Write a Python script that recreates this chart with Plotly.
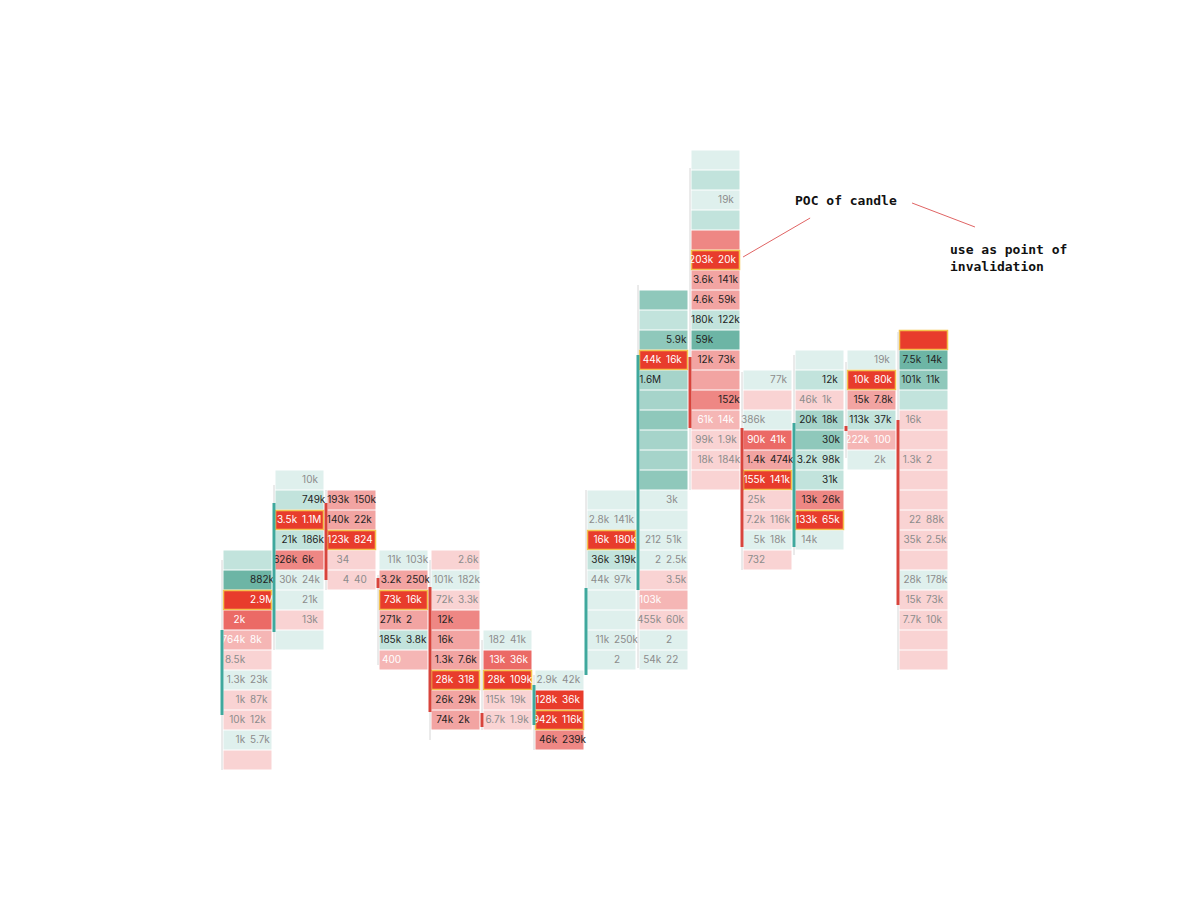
import plotly.graph_objects as go

# ---------------- data ----------------
# top price level of each candle's footprint (levels step by 1)
tops = [10, 14, 13, 10, 10, 6, 4, 13, 23, 30, 19, 20, 20, 21]
poc_levels = [8, 12, 11, 8, 4, 4, 2, 11, 20, 25, 14, 12, 19, 21]

shades = [
    ["T1", "T4", "R", "P4", "P1", "P0", "T0", "P0", "P0", "T0", "P0"],
    ["T0", "T1", "R", "T1", "P3", "T0", "T0", "P0", "T0"],
    ["P2", "P2", "R", "P0", "P0"],
    ["T0", "P2", "R", "P2", "T1", "P1"],
    ["P0", "T0", "P0", "P3", "P2", "P2", "R", "P2", "P2"],
    ["T0", "P4", "R", "P0", "P0"],
    ["T0", "R", "R", "P3"],
    ["T0", "T0", "R", "T1", "T0", "T0", "T0", "T0", "T0"],
    ["T3", "T1", "T3", "R", "T2", "T2", "T3", "T2", "T2", "T3", "T0", "T0", "T0", "T0", "P0", "P1", "P0", "T0", "T0"],
    ["T0", "T1", "T0", "T1", "P3", "R", "P2", "P2", "T1", "T4", "P2", "P2", "P3", "P1", "P0", "P0", "P0"],
    ["T0", "P0", "T0", "P4", "P2", "R", "P0", "P0", "T0", "P0"],
    ["T0", "T1", "P0", "T2", "T3", "T1", "T1", "P3", "R", "T0"],
    ["T0", "R", "P2", "T1", "P1", "T0"],
    ["R", "T4", "T3", "T1", "P0", "P0", "P0", "P0", "P0", "P0", "P0", "P0", "T0", "P0", "P0", "P0", "P0"],
]

bids = [
    ["", "", "", "2k", "764k", "8.5k", "1.3k", "1k", "10k", "1k", ""],
    ["", "", "3.5k", "21k", "626k", "30k", "", "", ""],
    ["193k", "140k", "123k", "34", "4"],
    ["11k", "3.2k", "73k", "271k", "185k", "400"],
    ["", "101k", "72k", "12k", "16k", "1.3k", "28k", "26k", "74k"],
    ["182", "13k", "28k", "115k", "6.7k"],
    ["2.9k", "128k", "942k", "46k"],
    ["", "2.8k", "16k", "36k", "44k", "", "", "11k", ""],
    ["", "", "", "44k", "1.6M", "", "", "", "", "", "", "", "212", "2", "", "103k", "455k", "", "54k"],
    ["", "", "", "", "", "203k", "3.6k", "4.6k", "180k", "59k", "12k", "", "", "61k", "99k", "18k", ""],
    ["", "", "386k", "90k", "1.4k", "155k", "25k", "7.2k", "5k", "732"],
    ["", "", "46k", "20k", "", "3.2k", "", "13k", "133k", "14k"],
    ["", "10k", "15k", "113k", "222k", ""],
    ["", "7.5k", "101k", "", "16k", "", "1.3k", "", "", "22", "35k", "", "28k", "15k", "7.7k", "", ""],
]

asks = [
    ["", "882k", "2.9M", "", "8k", "", "23k", "87k", "12k", "5.7k", ""],
    ["10k", "749k", "1.1M", "186k", "6k", "24k", "21k", "13k", ""],
    ["150k", "22k", "824", "", "40"],
    ["103k", "250k", "16k", "2", "3.8k", ""],
    ["2.6k", "182k", "3.3k", "", "", "7.6k", "318", "29k", "2k"],
    ["41k", "36k", "109k", "19k", "1.9k"],
    ["42k", "36k", "116k", "239k"],
    ["", "141k", "180k", "319k", "97k", "", "", "250k", "2"],
    ["", "", "5.9k", "16k", "", "", "", "", "", "", "3k", "", "51k", "2.5k", "3.5k", "", "60k", "2", "22"],
    ["", "", "19k", "", "", "20k", "141k", "59k", "122k", "", "73k", "", "152k", "14k", "1.9k", "184k", ""],
    ["77k", "", "", "41k", "474k", "141k", "", "116k", "18k", ""],
    ["", "12k", "1k", "18k", "30k", "98k", "31k", "26k", "65k", ""],
    ["19k", "80k", "7.8k", "37k", "100", "2k"],
    ["", "14k", "11k", "", "", "", "2", "", "", "88k", "2.5k", "", "178k", "73k", "10k", "", ""],
]

# candles in price-level units: body top, body bottom, wick top, wick bottom, bullish?
body_top = [6.5, 12.85, 12.85, 9.1, 8.65, 2.35, 3.75, 8.6, 20.25, 20.15, 16.6, 16.85, 16.7, 17.0]
body_bot = [2.25, 6.4, 9.0, 8.6, 2.4, 1.65, 1.75, 4.25, 8.5, 16.6, 10.65, 10.65, 16.45, 7.75]
wick_top = [10.0, 13.75, 13.5, 9.25, 10.0, 6.0, 4.25, 13.5, 23.75, 29.6, 19.4, 20.25, 19.9, 21.4]
wick_bot = [-0.5, 5.5, 8.5, 4.75, 1.0, 1.5, 0.5, 4.4, 4.6, 13.5, 9.5, 10.25, 15.1, 4.5]
bullish = [True, True, False, False, False, False, True, True, True, False, False, True, False, False]

# annotations (data units)
note_lines = [
    [(9.53, 25.15), (10.82, 27.1)],
    [(12.78, 27.85), (13.99, 26.65)],
]
note_texts = [
    ("POC of candle", 10.49, 28.0),
    ("use as point of<br>invalidation", 13.47, 25.1),
]

# ---------------- styling ----------------
palette = {
    "T0": "#dff0ed", "T1": "#c2e3dc", "T2": "#a6d4ca", "T3": "#8fc8bb", "T4": "#6db5a5",
    "P0": "#f9d3d3", "P1": "#f5b6b5", "P2": "#f2a4a2", "P3": "#ee8784", "P4": "#eb6a66",
    "R": "#e83c2c",
}
text_col = {
    "T0": "#8c8c8c", "T1": "#1f1f1f", "T2": "#1f1f1f", "T3": "#1f1f1f", "T4": "#1f1f1f",
    "P0": "#8c8c8c", "P1": "#ffffff", "P2": "#1f1f1f", "P3": "#1f1f1f", "P4": "#ffffff",
    "R": "#ffffff",
}

bx, bbase, bcol, blc, blw = [], [], [], [], []
lx, ly, lt, lc = [], [], [], []
rx, ry, rt, rc = [], [], [], []
for i, top in enumerate(tops):
    for j, s in enumerate(shades[i]):
        lvl = top - j
        bx.append(i)
        bbase.append(lvl - 0.475)
        bcol.append(palette[s])
        poc = lvl == poc_levels[i]
        blc.append("#f4c24d" if poc else "rgba(0,0,0,0)")
        blw.append(1.5 if poc else 0)
        if bids[i][j]:
            lx.append(i - 0.045); ly.append(lvl); lt.append(bids[i][j]); lc.append(text_col[s])
        if asks[i][j]:
            rx.append(i + 0.05); ry.append(lvl); rt.append(asks[i][j]); rc.append(text_col[s])

fig = go.Figure()
fig.add_trace(go.Bar(
    x=bx, y=[0.95] * len(bx), base=bbase, width=0.923,
    marker=dict(color=bcol, line=dict(color=blc, width=blw)),
    hoverinfo="skip",
))

font_family = "Inter, Roboto, sans-serif"
fig.add_trace(go.Scatter(x=lx, y=ly, text=lt, mode="text", textposition="middle left",
                         textfont=dict(family=font_family, size=10, color=lc), hoverinfo="skip"))
fig.add_trace(go.Scatter(x=rx, y=ry, text=rt, mode="text", textposition="middle right",
                         textfont=dict(family=font_family, size=10, color=rc), hoverinfo="skip"))

# candles
off = 0.4615 + 1.5 / 52
wx, wy = [], []
for i in range(len(tops)):
    wx += [i - off, i - off, None]
    wy += [wick_top[i], wick_bot[i], None]
fig.add_trace(go.Scatter(x=wx, y=wy, mode="lines", line=dict(color="#d6d6d6", width=1), hoverinfo="skip"))
for up, colr in [(True, "#3fa89d"), (False, "#d8443c")]:
    cx, cy = [], []
    for i in range(len(tops)):
        if bullish[i] == up:
            cx += [i - off, i - off, None]
            cy += [body_top[i], body_bot[i], None]
    fig.add_trace(go.Scatter(x=cx, y=cy, mode="lines", line=dict(color=colr, width=3), hoverinfo="skip"))

for seg in note_lines:
    fig.add_trace(go.Scatter(x=[p[0] for p in seg], y=[p[1] for p in seg], mode="lines",
                             line=dict(color="#e06464", width=1), hoverinfo="skip"))
for txt, x, y in note_texts:
    fig.add_annotation(x=x, y=y, text="<b>" + txt + "</b>", showarrow=False, xanchor="left",
                       yanchor="middle", align="left",
                       font=dict(family="DejaVu Sans Mono", size=13, color="#111111"))

# page body adds an 8px offset, so the axis ranges are shifted to compensate
fig.update_layout(
    width=1200, height=900, margin=dict(l=0, r=0, t=0, b=0),
    paper_bgcolor="white", plot_bgcolor="white", showlegend=False, barmode="overlay",
    xaxis=dict(range=[-4.6058, 18.4712], visible=False, fixedrange=True),
    yaxis=dict(range=[-7.4, 37.6], visible=False, fixedrange=True),
)
fig.write_html("out.html")
